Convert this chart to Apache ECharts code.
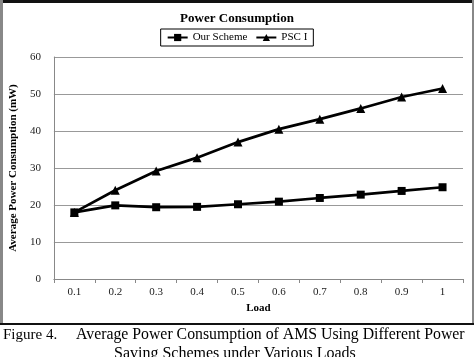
<!DOCTYPE html>
<html><head><meta charset="utf-8">
<script src="https://cdn.jsdelivr.net/npm/echarts@6/dist/echarts.min.js"></script>
<style>html,body{margin:0;padding:0;background:#fff}#c{width:474px;height:357px}</style>
</head><body><div id="c"></div>
<script>
const categories = ['0.1','0.2','0.3','0.4','0.5','0.6','0.7','0.8','0.9','1'];
const ourScheme = [18.0, 19.9, 19.4, 19.5, 20.2, 20.9, 21.9, 22.8, 23.8, 24.8];
const psc1 = [18.0, 24.0, 29.2, 32.8, 37.0, 40.5, 43.2, 46.1, 49.2, 51.5];
const yTicks = [0, 10, 20, 30, 40, 50, 60];
const serif = 'Liberation Serif';
const chart = echarts.init(document.getElementById('c'));
chart.setOption({
  animation: false,
  backgroundColor: '#fff',
  title: { text: 'Power Consumption', left: 'center', top: 7,
    textStyle: { fontFamily: serif, fontWeight: 'bold', fontSize: 13, color: '#000' } },
  legend: {
    top: 29, left: 'center', borderColor: '#000', borderWidth: 1, padding: [3, 6],
    itemWidth: 20, itemHeight: 9, itemGap: 8,
    textStyle: { fontFamily: serif, fontSize: 11, color: '#000' },
    data: ['Our Scheme', 'PSC I']
  },
  grid: { left: 51, right: 11, top: 57, bottom: 78 },
  xAxis: {
    type: 'category', data: categories, boundaryGap: true,
    name: 'Load', nameLocation: 'middle', nameGap: 24,
    nameTextStyle: { fontFamily: serif, fontWeight: 'bold', fontSize: 11, color: '#000' },
    axisLine: { lineStyle: { color: '#888', width: 1 } },
    axisTick: { show: true, length: 4, lineStyle: { color: '#888' } },
    axisLabel: { fontFamily: serif, fontSize: 11, color: '#222', margin: 8 }
  },
  yAxis: {
    type: 'value', min: yTicks[0], max: yTicks[yTicks.length - 1], interval: 10,
    name: 'Average Power Consumption (mW)', nameLocation: 'middle', nameGap: 25,
    nameTextStyle: { fontFamily: serif, fontWeight: 'bold', fontSize: 11, color: '#000' },
    axisLine: { show: true, lineStyle: { color: '#888', width: 1 } },
    axisTick: { show: false },
    axisLabel: { fontFamily: serif, fontSize: 11, color: '#222', margin: 13 },
    splitLine: { lineStyle: { color: '#999', width: 1 } }
  },
  series: [
    { name: 'Our Scheme', type: 'line', data: ourScheme, symbol: 'rect', symbolSize: 8,
      lineStyle: { color: '#000', width: 2.7 }, itemStyle: { color: '#000' }, z: 3 },
    { name: 'PSC I', type: 'line', data: psc1, symbol: 'triangle', symbolSize: 9,
      lineStyle: { color: '#000', width: 2.7 }, itemStyle: { color: '#000' }, z: 3 }
  ],
  graphic: [
    { type: 'rect', shape: { x: 0, y: 0, width: 474, height: 3 }, style: { fill: '#111' }, silent: true },
    { type: 'rect', shape: { x: 0, y: 0, width: 3, height: 324 }, style: { fill: '#888' }, silent: true },
    { type: 'rect', shape: { x: 472, y: 0, width: 2, height: 324 }, style: { fill: '#888' }, silent: true },
    { type: 'rect', shape: { x: 0, y: 323, width: 474, height: 2 }, style: { fill: '#111' }, silent: true },
    { type: 'text', left: 3, top: 328, style: { text: 'Figure 4.', font: '15px "Liberation Serif"', fill: '#000' }, silent: true },
    { type: 'text', left: 76, top: 327, style: { text: 'Average Power Consumption of AMS Using Different Power', font: '15.8px "Liberation Serif"', fill: '#000' }, silent: true },
    { type: 'text', left: 114, top: 346, style: { text: 'Saving Schemes under Various Loads', font: '16px "Liberation Serif"', fill: '#000' }, silent: true }
  ]
});
</script></body></html>
